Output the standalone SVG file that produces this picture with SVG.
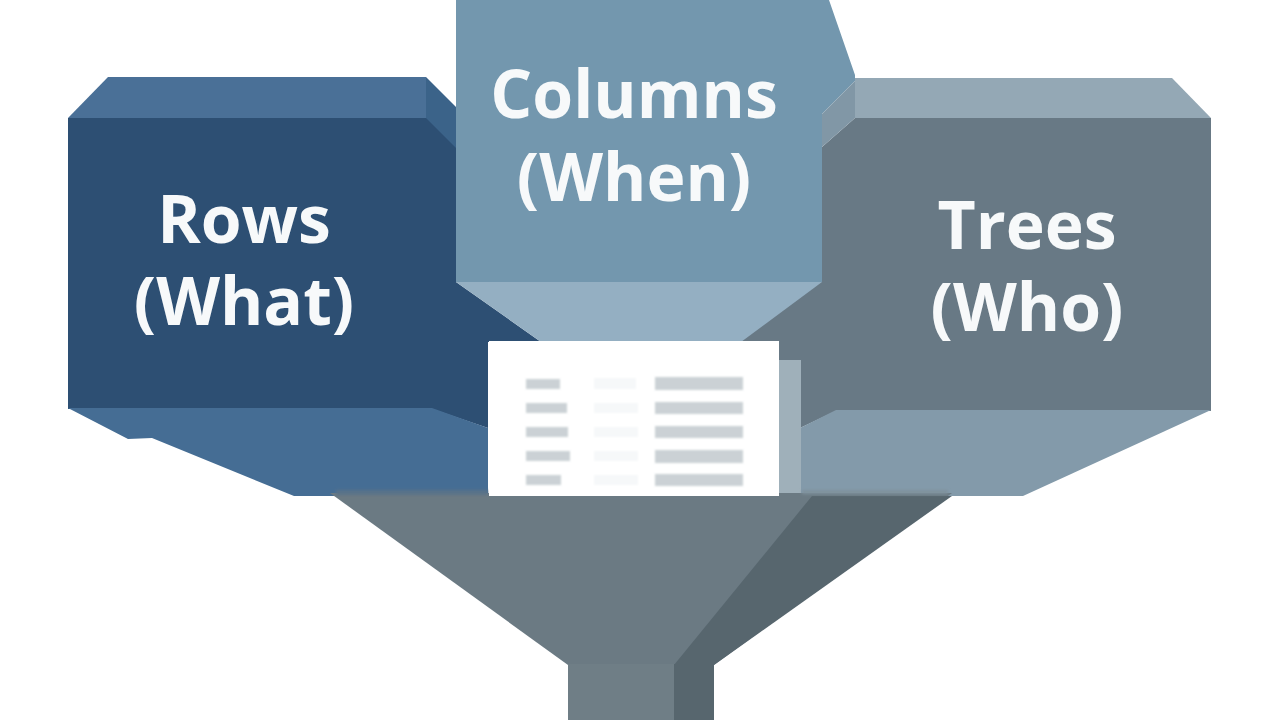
<svg xmlns="http://www.w3.org/2000/svg" width="1280" height="720" viewBox="0 0 1280 720">
<defs>
<filter id="soft" x="-10%" y="-30%" width="120%" height="160%"><feGaussianBlur stdDeviation="0.8"/></filter>
<filter id="shade" x="-5%" y="-100%" width="110%" height="300%"><feGaussianBlur stdDeviation="1.5"/></filter>
</defs>
<style>
text{font-family:"Open Sans","Noto Sans","Liberation Sans",sans-serif;font-weight:700;fill:#f7f9fa;text-anchor:middle}
.l{font-size:66px}
.b1{fill:#cbd1d5}
.b2{fill:#f6f8f9}
</style>
<rect width="1280" height="720" fill="#ffffff"/>
<g id="trees">
<polygon points="855,78 1172,78 1211,118 855,118" fill="#94a8b5"/>
<polygon points="855,118 1211,118 1211,411 836,411 800,428 779,428 741,342 822,147" fill="#687985"/>
<polygon points="800,428 836,410 1211,410 1023,496 800,496" fill="#839aaa"/>
<rect x="779" y="360" width="22" height="136" fill="#9fb0ba"/>
<text class="l" x="1027" y="249">Trees<tspan x="1027" y="331">(Who)</tspan></text>
</g>
<g id="rows">
<polygon points="68,118 456,118 456,282 541,342 488,342 488,428 432,409 68,409" fill="#2d4f73"/>
<polygon points="108,77 426,77 426,118 68,118" fill="#4a7097"/>
<polygon points="426,77 456,107 456,148 426,118" fill="#3b6389"/>
<polygon points="68,408 432,408 488,428 488,496 294,496 152,438 128,439" fill="#456d94"/>
<text class="l" x="244" y="243">Rows<tspan x="244" y="325">(What)</tspan></text>
</g>
<g id="funnel">
<polygon points="330,493 952,493 714,665 568,665" fill="#6b7a83"/>
<polygon points="812,496 952,496 714,665 674,665" fill="#57666e"/>
<rect x="568" y="664" width="107" height="56" fill="#6f7e86"/>
<rect x="674" y="664" width="40" height="56" fill="#57666e"/>
<rect x="336" y="490" width="152" height="5" fill="#5a7288" filter="url(#shade)"/>
<rect x="802" y="490" width="146" height="4" fill="#7f919c" filter="url(#shade)"/>
</g>
<g id="columns">
<polygon points="456,0 829,0 855,75 855,81 822,114 822,282 456,282" fill="#7397ae"/>
<polygon points="855,81 855,118 822,147 822,114" fill="#8197a6"/>
<polygon points="456,282 822,282 741,342 541,342" fill="#94afc2"/>
<text class="l" x="634" y="118">Columns<tspan x="634" y="201">(When)</tspan></text>
</g>
<g id="table">
<rect x="489" y="341" width="290" height="155" fill="#ffffff"/>
<g filter="url(#soft)">
<rect class="b1" x="526" y="379" width="34" height="10"/>
<rect class="b1" x="526" y="403" width="41" height="10"/>
<rect class="b1" x="526" y="427" width="42" height="10"/>
<rect class="b1" x="526" y="451" width="44" height="10"/>
<rect class="b1" x="526" y="475" width="35" height="10"/>
<rect class="b2" x="594" y="378" width="42" height="11"/>
<rect class="b2" x="594" y="403" width="44" height="10"/>
<rect class="b2" x="594" y="427" width="44" height="10"/>
<rect class="b2" x="594" y="451" width="44" height="10"/>
<rect class="b2" x="594" y="475" width="44" height="10"/>
<rect class="b1" x="655" y="377" width="88" height="13"/>
<rect class="b1" x="655" y="402" width="88" height="12"/>
<rect class="b1" x="655" y="426" width="88" height="12"/>
<rect class="b1" x="655" y="450" width="88" height="13"/>
<rect class="b1" x="655" y="474" width="88" height="12"/>
</g>
</g>
<g id="connectors"></g>
</svg>
